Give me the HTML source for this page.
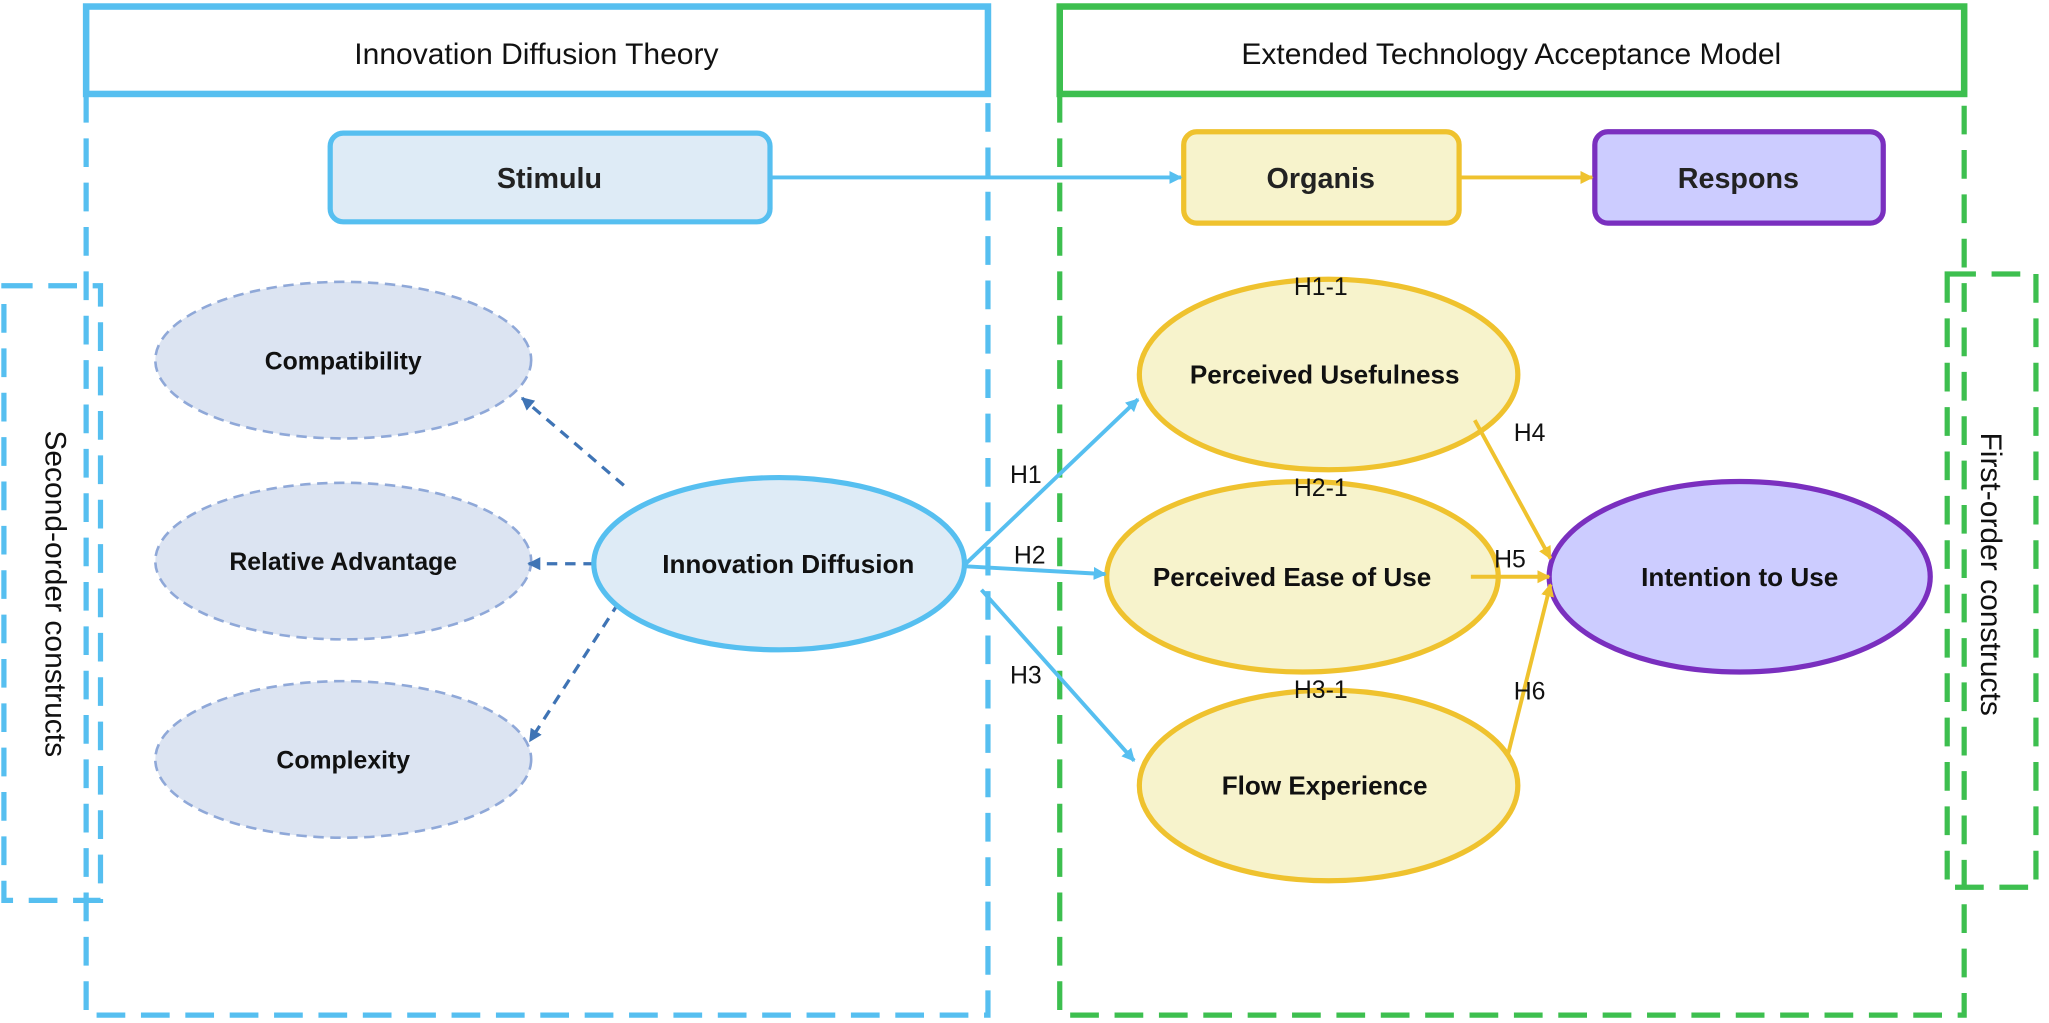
<!DOCTYPE html>
<html><head><meta charset="utf-8"><style>html,body{margin:0;padding:0;background:#fff}svg{display:block}</style></head>
<body>
<svg width="2049" height="1023" viewBox="0 0 1570 784" preserveAspectRatio="none" xmlns="http://www.w3.org/2000/svg" font-family="Liberation Sans, sans-serif">
<defs>
<marker id="ab" markerWidth="10" markerHeight="10" refX="9" refY="5" orient="auto" markerUnits="userSpaceOnUse" viewBox="0 0 10 10"><path d="M0,0 L10,5 L0,10 z" fill="#56bff0"/></marker>
<marker id="ay" markerWidth="10" markerHeight="10" refX="9" refY="5" orient="auto" markerUnits="userSpaceOnUse" viewBox="0 0 10 10"><path d="M0,0 L10,5 L0,10 z" fill="#efc22e"/></marker>
<marker id="ad" markerWidth="10" markerHeight="10" refX="9" refY="5" orient="auto" markerUnits="userSpaceOnUse" viewBox="0 0 10 10"><path d="M0,0 L10,5 L0,10 z" fill="#3f74b5"/></marker>
</defs>
<!-- left big box -->
<rect x="66" y="5" width="691" height="67" fill="none" stroke="#56bff0" stroke-width="5"/>
<path d="M66,72 V778 H757 V72" fill="none" stroke="#56bff0" stroke-width="4" stroke-dasharray="22,12"/>
<text x="411" y="49" font-size="23" text-anchor="middle" fill="#111">Innovation Diffusion Theory</text>
<!-- right big box -->
<rect x="812" y="5" width="693" height="67" fill="none" stroke="#3dbf4f" stroke-width="5"/>
<path d="M812,72 V778 H1505 V72" fill="none" stroke="#3dbf4f" stroke-width="4" stroke-dasharray="22,12"/>
<text x="1158" y="49" font-size="23" text-anchor="middle" fill="#111">Extended Technology Acceptance Model</text>
<!-- small side boxes -->
<rect x="3" y="219" width="74" height="471" fill="#fff" fill-opacity="0" stroke="#56bff0" stroke-width="4" stroke-dasharray="22,12"/>
<text transform="translate(35,455) rotate(90)" font-size="23" text-anchor="middle" fill="#111">Second-order constructs</text>
<rect x="1492" y="210" width="68" height="470" fill="none" stroke="#3dbf4f" stroke-width="4" stroke-dasharray="22,12"/>
<text transform="translate(1518,440) rotate(90)" font-size="23" text-anchor="middle" fill="#111">First-order constructs</text>
<!-- top boxes -->
<rect x="253" y="102" width="337" height="68" rx="10" fill="#deebf6" stroke="#56bff0" stroke-width="4"/>
<text x="421" y="144" font-size="22" font-weight="bold" text-anchor="middle" fill="#222">Stimulu</text>
<rect x="907" y="101" width="211" height="70" rx="10" fill="#f7f3cc" stroke="#efc22e" stroke-width="4"/>
<text x="1012" y="144" font-size="22" font-weight="bold" text-anchor="middle" fill="#222">Organis</text>
<rect x="1222" y="101" width="221" height="70" rx="10" fill="#ccccff" stroke="#7a2fbf" stroke-width="4"/>
<text x="1332" y="144" font-size="22" font-weight="bold" text-anchor="middle" fill="#222">Respons</text>
<line x1="590" y1="136" x2="905" y2="136" stroke="#56bff0" stroke-width="3" marker-end="url(#ab)"/>
<line x1="1118" y1="136" x2="1220" y2="136" stroke="#efc22e" stroke-width="3" marker-end="url(#ay)"/>
<!-- second order ellipses -->
<g fill="#dce4f2" stroke="#8fa8d8" stroke-width="2" stroke-dasharray="8,5">
<ellipse cx="263" cy="276" rx="144" ry="60"/>
<ellipse cx="263" cy="430" rx="144" ry="60"/>
<ellipse cx="263" cy="582" rx="144" ry="60"/>
</g>
<g font-size="19" font-weight="bold" text-anchor="middle" fill="#111">
<text x="263" y="283">Compatibility</text>
<text x="263" y="437">Relative Advantage</text>
<text x="263" y="589">Complexity</text>
</g>
<!-- dashed arrows -->
<g stroke="#3f74b5" stroke-width="2.5" stroke-dasharray="8,6" marker-end="url(#ad)">
<line x1="478" y1="372" x2="400" y2="305"/>
<line x1="455" y1="432" x2="405" y2="432"/>
<line x1="474" y1="462" x2="406" y2="568"/>
</g>
<!-- Innovation Diffusion -->
<ellipse cx="597" cy="432" rx="142" ry="66" fill="#deebf6" stroke="#56bff0" stroke-width="4"/>
<text x="604" y="439" font-size="20" font-weight="bold" text-anchor="middle" fill="#111">Innovation Diffusion</text>
<!-- first-order ellipses -->
<g fill="#f7f3cc" stroke="#efc22e" stroke-width="4">
<ellipse cx="1018" cy="287" rx="145" ry="73"/>
<ellipse cx="998" cy="442" rx="150" ry="73"/>
<ellipse cx="1018" cy="602" rx="145" ry="73"/>
</g>
<ellipse cx="1333" cy="442" rx="146" ry="73" fill="#ccccff" stroke="#7a2fbf" stroke-width="4"/>
<g font-size="20" font-weight="bold" text-anchor="middle" fill="#111">
<text x="1015" y="294">Perceived Usefulness</text>
<text x="990" y="449">Perceived Ease of Use</text>
<text x="1015" y="609">Flow Experience</text>
<text x="1333" y="449">Intention to Use</text>
</g>
<!-- H arrows -->
<g stroke="#56bff0" stroke-width="3" marker-end="url(#ab)">
<line x1="740" y1="432" x2="872" y2="306"/>
<line x1="740" y1="434" x2="847" y2="440"/>
<line x1="752" y1="452" x2="869" y2="583"/>
</g>
<g stroke="#efc22e" stroke-width="3" marker-end="url(#ay)">
<line x1="1130" y1="322" x2="1188" y2="428"/>
<line x1="1127" y1="442" x2="1187" y2="442"/>
<line x1="1155" y1="580" x2="1188" y2="448"/>
</g>
<g font-size="19" fill="#111" text-anchor="middle">
<text x="786" y="370">H1</text>
<text x="789" y="432">H2</text>
<text x="786" y="524">H3</text>
<text x="1012" y="226">H1-1</text>
<text x="1012" y="380">H2-1</text>
<text x="1012" y="535">H3-1</text>
<text x="1172" y="338">H4</text>
<text x="1157" y="435">H5</text>
<text x="1172" y="536">H6</text>
</g>
</svg>
</body></html>
